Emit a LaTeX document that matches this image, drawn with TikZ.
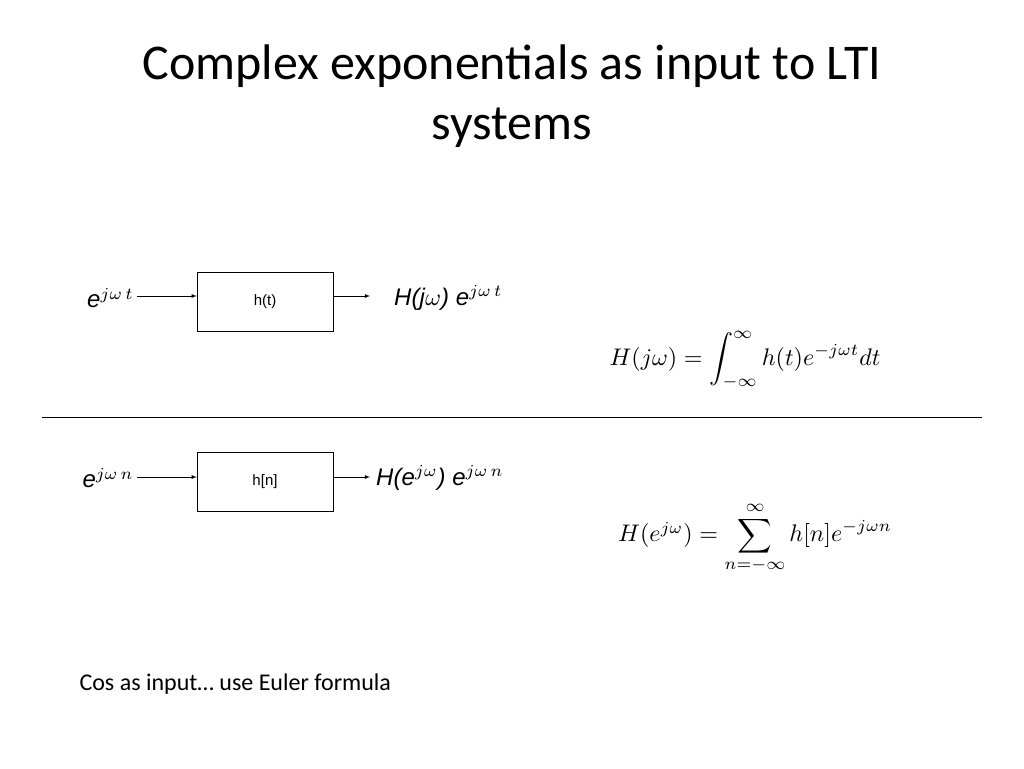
\documentclass[tikz,border=0pt]{standalone}
\usepackage{graphicx}
\usepackage{fontspec}
\setmainfont{Carlito}
\newfontfamily\arial{Liberation Sans}
\begin{document}
\begin{tikzpicture}[x=1pt,y=-1pt,
  blk/.style={draw,minimum width=136pt,minimum height=59pt,inner sep=0pt,font=\arial\fontsize{15}{18}\selectfont},
  lab/.style={font=\arial\fontsize{10}{12}\selectfont,inner sep=0pt},
  arr/.style={-latex,line width=0.8pt}]
\useasboundingbox (0,0) rectangle (1024,768);
\node[align=center,font=\fontsize{50}{60}\selectfont] (title) at (512,96) {Complex exponentials as input to LTI\\systems};
\node[blk] (b1) at (265,301.5) {h(t)};
\node[blk] (b2) at (265,481.5) {h[n]};
\node[lab,anchor=east] (i1) at (134,298) {\scalebox{2.4}{\textit{e}$^{j\omega\,t}$}};
\node[lab,anchor=west] (o1) at (394,298) {\scalebox{2.4}{\textit{H(j}$\omega$\textit{) e}$^{j\omega\,t}$}};
\node[lab,anchor=east] (i2) at (134,478) {\scalebox{2.4}{\textit{e}$^{j\omega\,n}$}};
\node[lab,anchor=west] (o2) at (376,478) {\scalebox{2.4}{\textit{H(e}$^{j\omega}$\textit{) e}$^{j\omega\,n}$}};
\coordinate (s1) at (137,296); \coordinate (t1) at (370,296);
\coordinate (s2) at (137,477); \coordinate (t2) at (370,477);
\draw[arr] (s1) -- (b1.west|-s1);
\draw[arr] (b1.east|-t1) -- (t1);
\draw[arr] (s2) -- (b2.west|-s2);
\draw[arr] (b2.east|-t2) -- (t2);
\coordinate (l1) at (42,417); \coordinate (l2) at (982,417);
\draw[line width=0.6pt] (l1) -- (l2);
\node (eq1) at (745,360) {\scalebox{2.4}{$H(j\omega)=\displaystyle\int_{-\infty}^{\infty}h(t)e^{-j\omega t}dt$}};
\node (eq2) at (755,538) {\scalebox{2.4}{$H(e^{j\omega})=\displaystyle\sum_{n=-\infty}^{\infty}h[n]e^{-j\omega n}$}};
\node[anchor=west,font=\fontsize{24}{28}\selectfont] (c) at (76,684) {Cos as input… use Euler formula};
\end{tikzpicture}
\end{document}
